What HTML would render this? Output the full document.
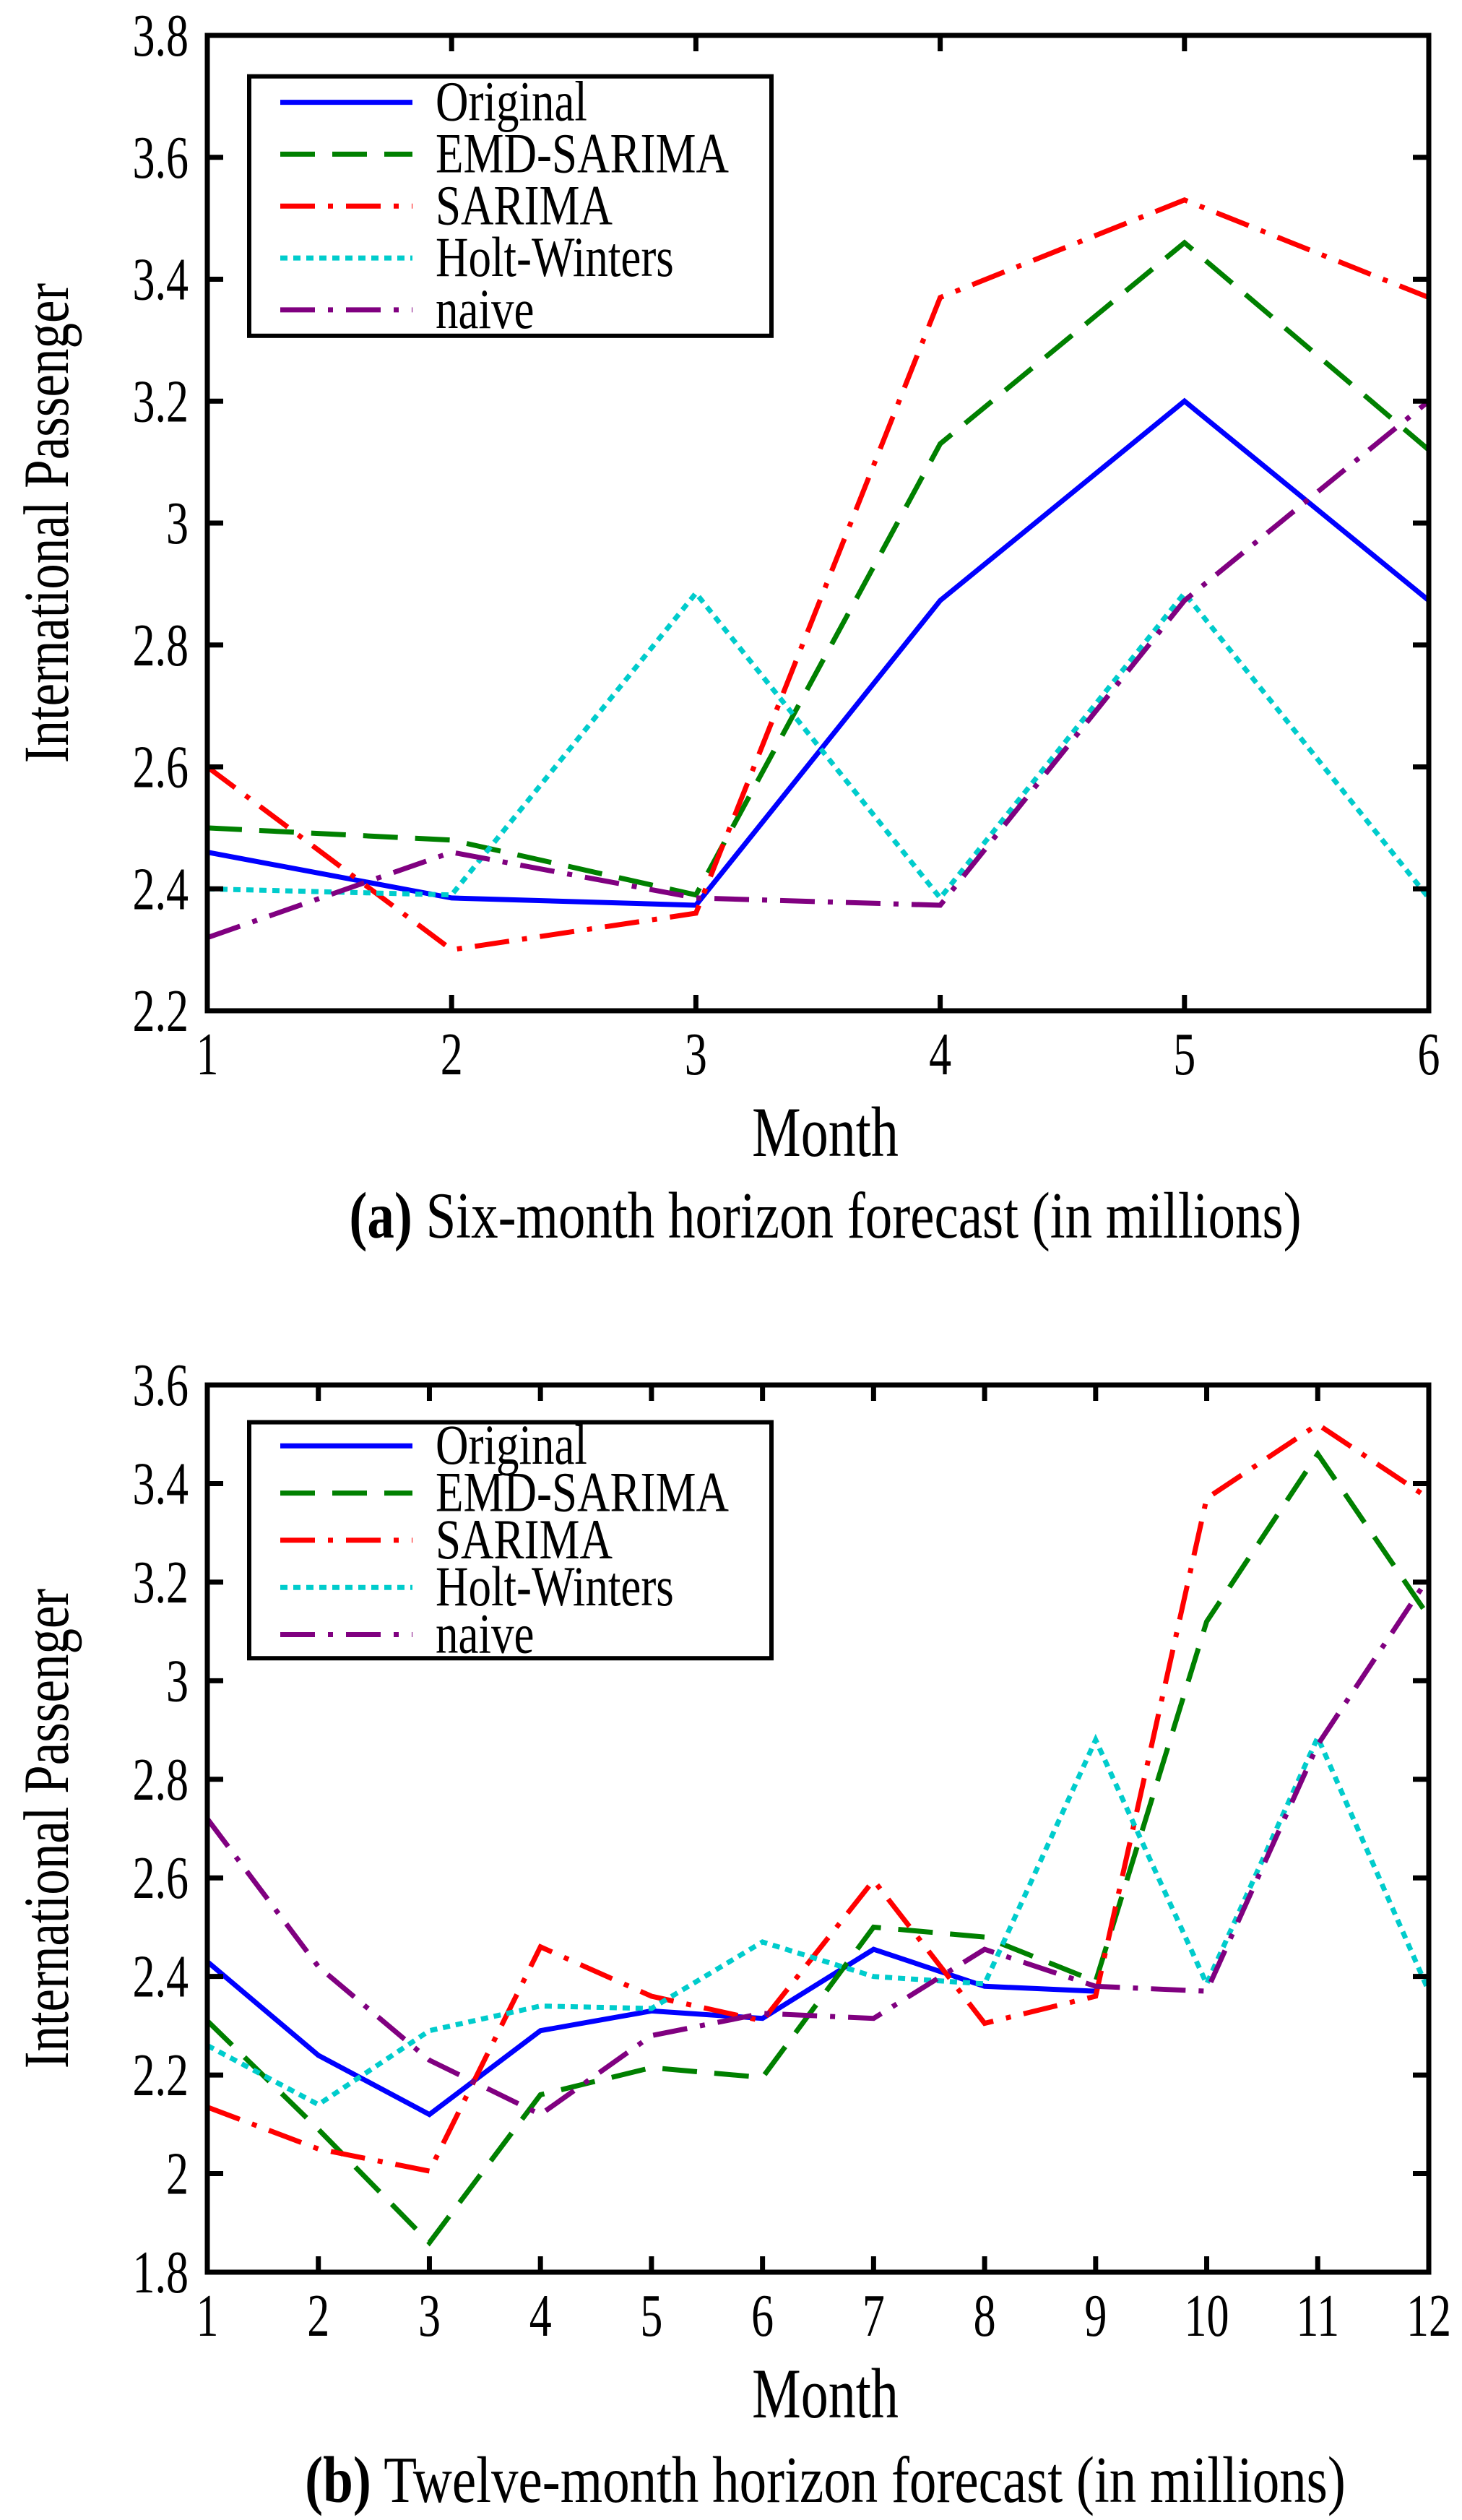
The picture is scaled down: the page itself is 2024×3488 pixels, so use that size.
<!DOCTYPE html>
<html><head><meta charset="utf-8"><style>
html,body{margin:0;padding:0;background:#fff}
svg{display:block}
text{font-family:"Liberation Serif",serif;fill:#000}
</style></head><body>
<svg id="c" width="2024" height="3488" viewBox="0 0 2024 3488" xmlns="http://www.w3.org/2000/svg"></svg>
<script>
const NS="http://www.w3.org/2000/svg";
const svg=document.getElementById('c');

const seriesNames=["Original","EMD-SARIMA","SARIMA","Holt-Winters","naive"];
const monthsA=[1,2,3,4,5,6];
const originalA=[2.46,2.385,2.373,2.873,3.2,2.873];
const emdA=[2.5,2.48,2.39,3.13,3.46,3.12];
const sarimaA=[2.6,2.3,2.36,3.37,3.53,3.37];
const hwA=[2.4,2.39,2.885,2.385,2.885,2.385];
const naiveA=[2.32,2.46,2.385,2.373,2.873,3.2];
const yTicksA=["2.2","2.4","2.6","2.8","3","3.2","3.4","3.6","3.8"];

const monthsB=[1,2,3,4,5,6,7,8,9,10,11,12];
const originalB=[2.43,2.24,2.12,2.29,2.33,2.315,2.455,2.38,2.37];
const emdB=[2.31,2.09,1.86,2.16,2.215,2.195,2.5,2.48,2.39,3.12,3.46,3.13];
const sarimaB=[2.135,2.05,2.005,2.46,2.36,2.31,2.595,2.305,2.36,3.37,3.52,3.37];
const hwB=[2.26,2.14,2.29,2.34,2.335,2.47,2.4,2.385,2.88,2.385,2.885,2.37];
const naiveB=[2.72,2.42,2.23,2.12,2.28,2.325,2.315,2.455,2.38,2.37,2.87,3.21];
const yTicksB=["1.8","2","2.2","2.4","2.6","2.8","3","3.2","3.4","3.6"];

const styles=[
 {c:"#0000ff",d:""},
 {c:"#008000",d:"48 24"},
 {c:"#ff0000",d:"48 18 7 18"},
 {c:"#00cccc",d:"10 8"},
 {c:"#800080",d:"48 18 7 18"}
];

function el(tag,attrs,parent){const e=document.createElementNS(NS,tag);for(const k in attrs)e.setAttribute(k,attrs[k]);(parent||svg).appendChild(e);return e;}
function txt(parent,x,y,size,sy,anchor,rot){
  let tr='translate('+x+','+y+')'+(rot?' rotate('+rot+')':'')+' scale(1,'+sy+')';
  return el('text',{x:0,y:0,'font-size':size,'text-anchor':anchor,transform:tr},parent);
}

function panel(id,L,R,T,B,months,yTicks,series,caption,capBold,monthY,capY){
  const g=el('g',{});
  
  
  const xmin=months[0],xmax=months[months.length-1];
  const ymin=parseFloat(yTicks[0]),ymax=parseFloat(yTicks[yTicks.length-1]);
  const X=v=>L+(v-xmin)/(xmax-xmin)*(R-L);
  const Y=v=>B-(v-ymin)/(ymax-ymin)*(B-T);
  const clip=el('clipPath',{id:id+'clip'},g);
  el('rect',{x:L,y:T,width:R-L,height:B-T},clip);
  series.forEach((s,i)=>{
    const pts=s.map((v,j)=>X(months[j]).toFixed(1)+','+Y(v).toFixed(1)).join(' ');
    const p=el('polyline',{points:pts,fill:'none',stroke:styles[i].c,'stroke-width':7,'stroke-dasharray':styles[i].d,'clip-path':'url(#'+id+'clip)'},g);
    
    
  });
  const f=el('rect',{x:L,y:T,width:R-L,height:B-T,fill:'none',stroke:'#000','stroke-width':7},g);
  
  
  yTicks.forEach(t=>{
    const y=Y(parseFloat(t));
    el('line',{x1:L,x2:L+22,y1:y,y2:y,stroke:'#000','stroke-width':7},g);
    el('line',{x1:R,x2:R-22,y1:y,y2:y,stroke:'#000','stroke-width':7},g);
    const tx=txt(g,L-26,y+28,62,1.35,'end');
    tx.textContent=t;
    
    
  });
  months.forEach(m=>{
    const x=X(m);
    el('line',{x1:x,x2:x,y1:B,y2:B-22,stroke:'#000','stroke-width':7},g);
    el('line',{x1:x,x2:x,y1:T,y2:T+22,stroke:'#000','stroke-width':7},g);
    const tx=txt(g,x,B+88,62,1.35,'middle');
    tx.textContent=String(m);
    
    
  });
  const yt=txt(g,94,(T+B)/2,71,1.25,'middle',-90);
  yt.textContent='International Passenger';
  
  
  const xt=txt(g,(L+R)/2+10,monthY,76,1.3,'middle');
  xt.textContent='Month';
  
  
  const cp=txt(g,(L+R)/2+10,capY,75,1.22,'middle');
  
  
  const b=el('tspan',{'font-weight':'bold'},cp);b.textContent=capBold;
  const r=el('tspan',{},cp);r.textContent=' '+caption;
  const lg=el('g',{},g);
  
  
  const lt=T+(B-T)*0.042, lb=T+(B-T)*0.308;
  el('rect',{x:345,y:lt,width:723,height:lb-lt,fill:'#fff',stroke:'#000','stroke-width':6},lg);
  const rowH=(lb-lt)/5;
  seriesNames.forEach((n,i)=>{
    const y=lt+rowH*(i+0.5);
    el('line',{x1:388,x2:571,y1:y,y2:y,stroke:styles[i].c,'stroke-width':7,'stroke-dasharray':styles[i].d},lg);
    const tx=txt(lg,603,y+25,63,1.25,'start');
    tx.textContent=n;
    
    
  });
}

panel('panel-a',287,1978,49,1399,monthsA,yTicksA,[originalA,emdA,sarimaA,hwA,naiveA],'Six-month horizon forecast (in millions)','(a)',1600,1713);
panel('panel-b',287,1978,1917,3145,monthsB,yTicksB,[originalB,emdB,sarimaB,hwB,naiveB],'Twelve-month horizon forecast (in millions)','(b)',3346,3463);
</script>
</body></html>
